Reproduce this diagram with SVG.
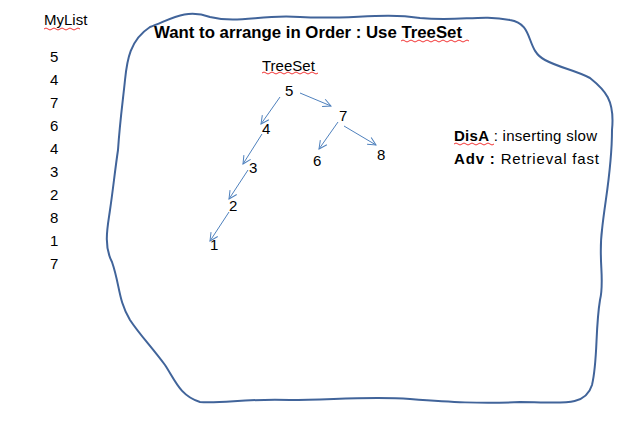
<svg xmlns="http://www.w3.org/2000/svg" width="628" height="421" viewBox="0 0 628 421">
<style>
text{font-family:"Liberation Sans",Arial,sans-serif;fill:#000}
.n{font-size:15px}
.b{font-weight:bold}
.c line{stroke:#4f81bd;stroke-width:1}
.sq{fill:none;stroke:#e00;stroke-width:0.8}
</style>
<defs><marker id="a" markerWidth="10" markerHeight="10" refX="9" refY="5" orient="auto" markerUnits="userSpaceOnUse"><path d="M1,1 L9,5 L1,9" fill="none" stroke="#4f81bd" stroke-width="1"/></marker></defs>
<path id="cloud" d="M150,27 C170,20 185,8 210,17 C240,24 260,14 300,17 C350,20 380,12 420,18 C460,22 480,14 510,20 C535,24 525,50 545,60 C560,68 575,70 590,78 C605,90 615,100 612,130 C612,170 605,200 602,230 C598,260 605,280 600,300 C595,330 598,360 592,385 C585,408 560,402 520,402 C480,404 450,402 410,399 C370,396 330,400 290,400 C250,398 220,404 200,402 C180,396 175,380 165,365 C150,345 140,335 130,320 C118,300 120,285 112,262 C103,245 108,225 110,210 C113,190 115,170 118,150 C120,120 123,100 125,80 C127,60 130,40 150,27 Z" fill="none" stroke="#41649a" stroke-width="2"/>
<g id="mylist"><text x="44" y="25" class="n">MyList</text><path class="sq" d="M44,29 q2,-2 4,0 t4,0 t4,0 t4,0 t4,0 t4,0 t4,0 t4,0 t4,0"/></g>
<g id="list" class="n">
<text x="50" y="62">5</text><text x="50" y="85">4</text><text x="50" y="108">7</text><text x="50" y="131">6</text><text x="50" y="154">4</text><text x="50" y="177">3</text><text x="50" y="200">2</text><text x="50" y="223">8</text><text x="50" y="246">1</text><text x="50" y="269">7</text>
</g>
<g id="title"><text x="154" y="38" class="b" font-size="16.8">Want to arrange in Order : Use TreeSet</text><path class="sq" d="M401,41 q2,-2 4,0 t4,0 t4,0 t4,0 t4,0 t4,0 t4,0 t4,0 t4,0 t4,0 t4,0 t4,0 t4,0 t4,0 t4,0 t4,0 t4,0"/></g>
<g id="treeset"><text x="262" y="71" class="n">TreeSet</text><path class="sq" d="M262,73 q2,-2 4,0 t4,0 t4,0 t4,0 t4,0 t4,0 t4,0 t4,0 t4,0 t4,0 t4,0 t4,0 t4,0 t4,0"/></g>
<g id="n5"><text x="285" y="96" class="n">5</text></g>
<g id="n4"><text x="262" y="134" class="n">4</text></g>
<g id="n7"><text x="339" y="121" class="n">7</text></g>
<g id="n3"><text x="249" y="173" class="n">3</text></g>
<g id="n6"><text x="313" y="166" class="n">6</text></g>
<g id="n8"><text x="377" y="160" class="n">8</text></g>
<g id="n2"><text x="229" y="211" class="n">2</text></g>
<g id="n1"><text x="210" y="250" class="n">1</text></g>
<g id="notes">
<text x="454" y="141" class="n" textLength="143" lengthAdjust="spacing"><tspan class="b">DisA</tspan> : inserting  slow</text>
<path class="sq" d="M454,144 q2,-2 4,0 t4,0 t4,0 t4,0 t4,0 t4,0 t4,0 t4,0 t4,0 t4,0"/>
<text x="454" y="164" class="n" textLength="145" lengthAdjust="spacing"><tspan class="b">Adv :</tspan> Retrieval fast</text>
</g>
<g class="c" id="connectors">
<line x1="280" y1="97" x2="261" y2="124" marker-end="url(#a)"/>
<line x1="300" y1="93" x2="331" y2="106" marker-end="url(#a)"/>
<line x1="262" y1="134" x2="243" y2="164" marker-end="url(#a)"/>
<line x1="248" y1="170" x2="229" y2="199" marker-end="url(#a)"/>
<line x1="229" y1="212" x2="210" y2="241" marker-end="url(#a)"/>
<line x1="338" y1="122" x2="319" y2="149" marker-end="url(#a)"/>
<line x1="344" y1="126" x2="376" y2="145" marker-end="url(#a)"/>
</g>
</svg>
